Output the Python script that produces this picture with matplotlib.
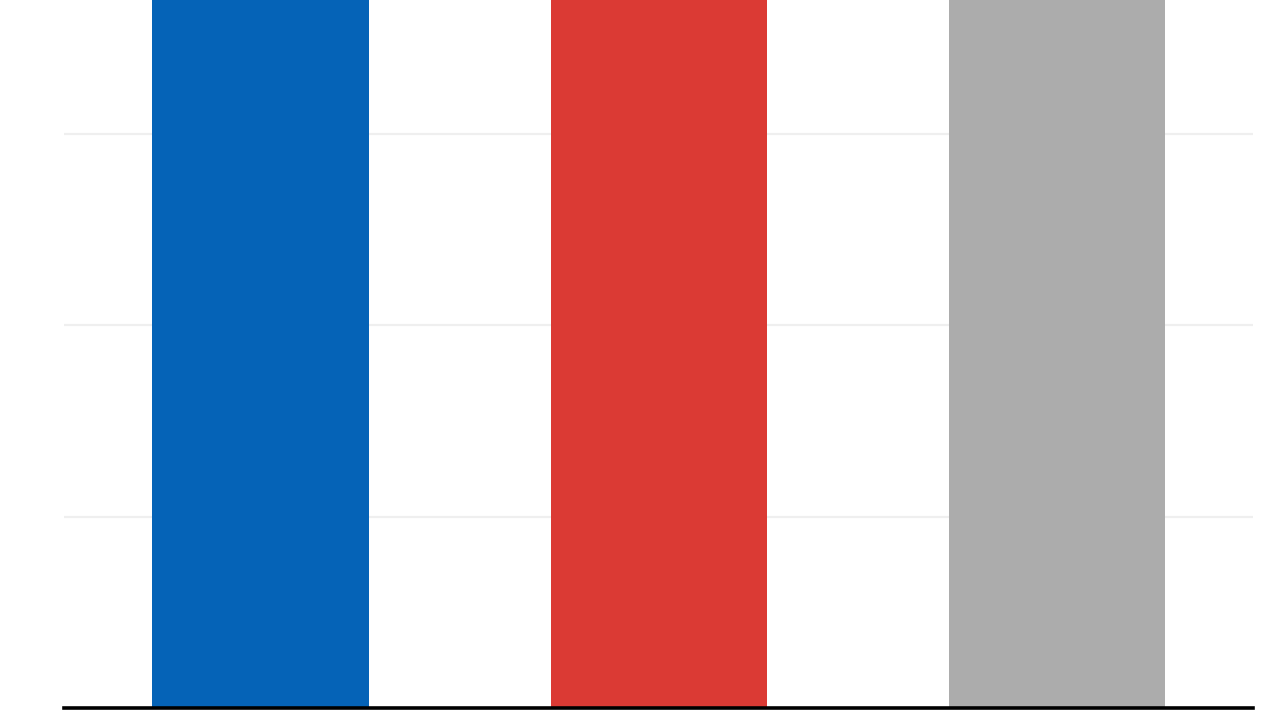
import numpy as np
import matplotlib.pyplot as plt

# three bars, all taller than the visible range (tops are cut off)
categories = ["A", "B", "C"]
values = [40, 40, 40]
colors = ["#0563b7", "#db3a34", "#acacac"]
grid_values = [10, 20, 30]

fig = plt.figure(figsize=(12.8, 7.2), dpi=100)
ax = fig.add_axes([0.05, 12 / 720, 0.929, 1 - 12 / 720])

x = np.arange(len(categories))
ax.bar(x, values, width=0.543, color=colors, zorder=2)

ax.set_xlim(-0.493, 2.492)
ax.set_ylim(0, 37.0)

ax.set_yticks(grid_values)
ax.yaxis.grid(True, color="#efefef", linewidth=1.6, zorder=0)
ax.set_axisbelow(True)
ax.tick_params(left=False, bottom=False, labelleft=False, labelbottom=False)

for side in ["top", "right", "left"]:
    ax.spines[side].set_visible(False)
ax.spines["bottom"].set_color("black")
ax.spines["bottom"].set_linewidth(2.6)
ax.spines["bottom"].set_zorder(3)

fig.savefig("out.png", dpi=100)
